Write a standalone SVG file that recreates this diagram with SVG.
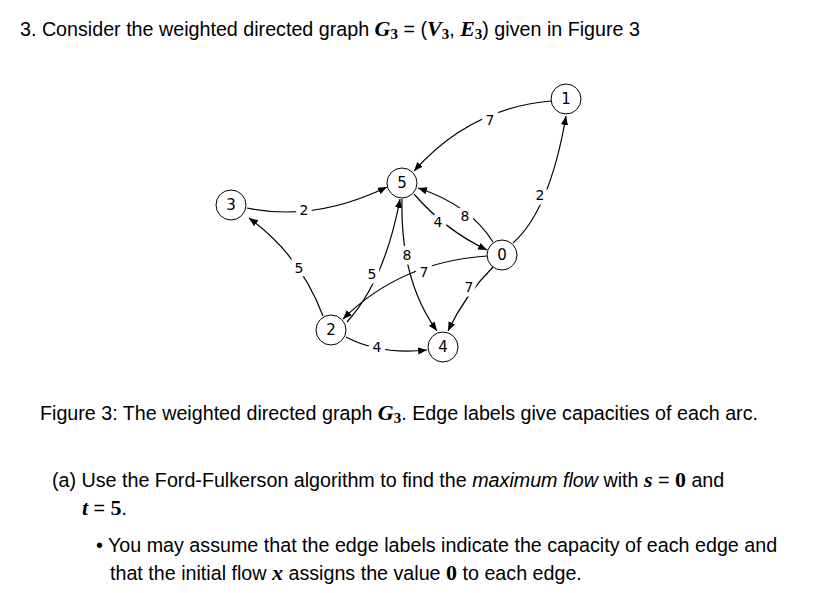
<svg xmlns="http://www.w3.org/2000/svg" width="814" height="593" viewBox="0 0 814 593">
<style>
.t{font-family:"Liberation Sans",Arial,sans-serif;font-size:19.7px;fill:#000}
.m{font-family:"Liberation Serif","Times New Roman",serif;font-style:italic;font-weight:bold;font-size:22px}
.mr{font-family:"Liberation Serif","Times New Roman",serif;font-weight:bold;font-size:22px}
.s{font-family:"Liberation Serif","Times New Roman",serif;font-weight:bold;font-size:15px}
.n circle{fill:#fff;stroke:#000;stroke-width:1}
.n text{font-family:"DejaVu Sans",sans-serif;font-size:15px;text-anchor:middle}
.e path{fill:none;stroke:#000;stroke-width:1.2;marker-end:url(#a)}
.l text{font-family:"DejaVu Sans",sans-serif;font-size:14px;text-anchor:middle;stroke:#fff;stroke-width:9;paint-order:stroke;fill:#000}
</style>
<defs><marker id="a" viewBox="0 0 10 10" refX="10" refY="5" markerWidth="9" markerHeight="9" markerUnits="userSpaceOnUse" orient="auto"><path d="M0,1 L10,5 L0,9 z" fill="#000"/></marker></defs>
<rect width="814" height="593" fill="#fff"/>
<text class="t" x="20" y="36">3. Consider the weighted directed graph <tspan class="m">G</tspan><tspan class="s" dy="3">3</tspan><tspan dy="-3"> = (</tspan><tspan class="m">V</tspan><tspan class="s" dy="3">3</tspan><tspan dy="-3">, </tspan><tspan class="m">E</tspan><tspan class="s" dy="3">3</tspan><tspan dy="-3">) given in Figure 3</tspan></text>
<g id="edges" class="e">
<path d="M551,101 Q470,108 414,171"/>
<path d="M513,243 Q550,210 566,116"/>
<path d="M247,208 Q315,222 387,187"/>
<path d="M323,316 Q300,255 249,218"/>
<path d="M347,322 Q385,280 400,199"/>
<path d="M402,199 Q400,280 437,331"/>
<path d="M414,194 Q445,230 487,250"/>
<path d="M493,242 Q470,205 418,188"/>
<path d="M487,256 Q400,262 343,319"/>
<path d="M493,267 Q465,295 448,331"/>
<path d="M346,337 Q380,355 427,350"/>
</g>
<g class="l">
<text x="490" y="125">7</text>
<text x="540" y="200">2</text>
<text x="304" y="215">2</text>
<text x="299" y="273">5</text>
<text x="372" y="279">5</text>
<text x="407" y="260">8</text>
<text x="438" y="227">4</text>
<text x="465" y="221">8</text>
<text x="424" y="277">7</text>
<text x="469" y="292">7</text>
<text x="377" y="352">4</text>
</g>
<g id="n1" class="n"><circle cx="566" cy="99" r="15"/><text x="566" y="104">1</text></g>
<g id="n5" class="n"><circle cx="402" cy="183" r="15"/><text x="402" y="188">5</text></g>
<g id="n3" class="n"><circle cx="231" cy="205" r="15"/><text x="231" y="210">3</text></g>
<g id="n0" class="n"><circle cx="502" cy="255" r="15"/><text x="502" y="260">0</text></g>
<g id="n2" class="n"><circle cx="331" cy="330" r="15"/><text x="331" y="335">2</text></g>
<g id="n4" class="n"><circle cx="443" cy="347" r="15"/><text x="443" y="352">4</text></g>
<text class="t" x="399" y="420" text-anchor="middle">Figure 3: The weighted directed graph <tspan class="m">G</tspan><tspan class="s" dy="3">3</tspan><tspan dy="-3">. Edge labels give capacities of each arc.</tspan></text>
<text class="t" x="52" y="487">(a) Use the Ford-Fulkerson algorithm to find the <tspan font-style="italic">maximum flow</tspan> with <tspan class="m">s</tspan> = <tspan class="mr">0</tspan> and</text>
<text class="t" x="82" y="515"><tspan class="m">t</tspan> = <tspan class="mr">5</tspan>.</text>
<text class="t" x="96" y="552">• You may assume that the edge labels indicate the capacity of each edge and</text>
<text class="t" x="110" y="580">that the initial flow <tspan class="m">x</tspan> assigns the value <tspan class="mr">0</tspan> to each edge.</text>
</svg>
